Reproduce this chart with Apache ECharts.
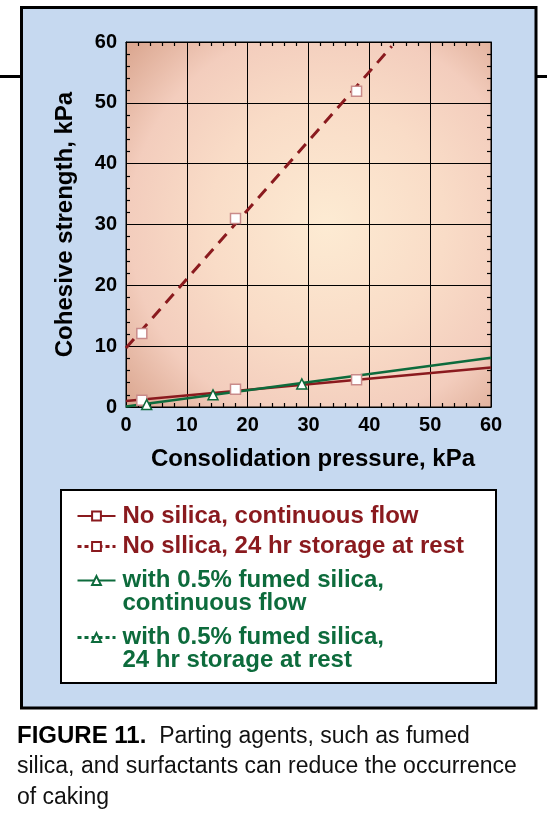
<!DOCTYPE html>
<html>
<head>
<meta charset="utf-8">
<script src="https://cdn.jsdelivr.net/npm/echarts@6/dist/echarts.min.js"></script>
<style>
html,body{margin:0;padding:0;background:#fff;}
#c{width:547px;height:819px;}
</style>
</head>
<body>
<div id="c"></div>
<script>
// ---- data ----
var xTicks = [0, 10, 20, 30, 40, 50, 60];
var yTicks = [0, 10, 20, 30, 40, 50, 60];
var seriesNames = [
  'No silica, continuous flow',
  'No sllica, 24 hr storage at rest',
  'with 0.5% fumed silica,\ncontinuous flow',
  'with 0.5% fumed silica,\n24 hr storage at rest'
];
// fitted lines
var noSilicaFlowLine = [[0, 1.0], [60, 6.5]];
var noSilicaRestLine = [[0, 9.7], [43.7, 59.3]];
var silicaFlowLine = [[0, 0.1], [60, 8.1]];
var silicaRestLine = [];
// measured points
var noSilicaFlowPts = [[2.6, 1.1], [18.0, 2.9], [37.9, 4.5]];
var noSilicaRestPts = [[2.6, 12.1], [18.0, 31.0], [37.9, 51.9]];
var silicaFlowPts = [[3.4, 0.4], [14.3, 2.0], [28.9, 3.8]];
var silicaRestPts = [];
var caption = ['FIGURE 11.', 'Parting agents, such as fumed', 'silica, and surfactants can reduce the occurrence', 'of caking'];

var RED = '#8a1a1e', GREEN = '#0d6b3c', SQB = '#c98b8a';
var FONT = 'Liberation Sans';

function fitLine(name, data, color, dash, sym) {
  return {
    name: name, type: 'line', data: data.map(function (p) { return { value: p, symbol: 'none' }; }),
    symbol: sym, symbolSize: 10, silent: true, z: 3,
    lineStyle: { color: color, width: dash ? 3 : 2.5, type: dash ? [12, 8] : 'solid' },
    itemStyle: { color: '#fff', borderColor: color, borderWidth: 1.2 }
  };
}
function pts(name, data, color, sym, size) {
  return {
    name: name, type: 'scatter', data: data, symbol: sym, symbolSize: size, z: 5, silent: true,
    itemStyle: { color: '#fff', borderColor: color, borderWidth: 1.5, opacity: 1 }
  };
}

var chart = echarts.init(document.getElementById('c'), null, { renderer: 'canvas' });
var labelStyle = { color: '#000', fontSize: 20, fontWeight: 'bold', fontFamily: FONT };
var axisBase = function (pos, showLabel) {
  return {
    type: 'value', position: pos, min: 0, max: 60, interval: 10,
    axisLine: { show: true, onZero: false, lineStyle: { color: '#000', width: 1 } },
    axisTick: { show: true, inside: true, length: 4, lineStyle: { color: '#000' } },
    minorTick: { show: true, splitNumber: 5, length: 4, lineStyle: { color: '#000', width: 1.2 } },
    splitLine: { show: showLabel, lineStyle: { color: '#000', width: 1 } },
    axisLabel: showLabel ? Object.assign({ margin: 8 }, labelStyle) : { show: false }
  };
};
var xb = axisBase('bottom', true);
xb.name = 'Consolidation pressure, kPa';
xb.nameLocation = 'middle'; xb.nameGap = 40;
xb.nameTextStyle = { color: '#000', fontSize: 24, fontWeight: 'bold', fontFamily: FONT, padding: [0, 0, 0, 9] };
var yl = axisBase('left', true);
yl.name = 'Cohesive strength, kPa';
yl.nameLocation = 'middle'; yl.nameGap = 49;
yl.nameTextStyle = { color: '#000', fontSize: 24, fontWeight: 'bold', fontFamily: FONT };
yl.axisLabel.margin = 9;

chart.setOption({
  animation: false,
  textStyle: { fontFamily: FONT },
  grid: {
    left: 126, top: 42, width: 365, height: 365, show: true, z: 0,
    borderColor: '#000', borderWidth: 1,
    backgroundColor: {
      type: 'radial', x: 0.55, y: 0.5, r: 0.72,
      colorStops: [
        { offset: 0, color: '#fdebd3' },
        { offset: 0.45, color: '#f9dcc7' },
        { offset: 0.75, color: '#f3cdbd' },
        { offset: 1, color: '#dca993' }
      ]
    }
  },
  xAxis: [xb, axisBase('top', false)],
  yAxis: [yl, axisBase('right', false)],
  legend: {
    orient: 'vertical', left: 71, top: 479.5, itemGap: -13, itemWidth: 38, itemHeight: 11,
    selectedMode: false,
    formatter: function (name) { return name.indexOf('\n') >= 0 ? '\n' + name : name; },
    textStyle: { fontSize: 24, fontWeight: 'bold', fontFamily: FONT, lineHeight: 23 },
    data: [
      { name: seriesNames[0], textStyle: { color: RED, padding: [20, 0, 20, 2] }, itemStyle: { borderColor: RED } },
      { name: seriesNames[1], textStyle: { color: RED, padding: [0, 0, 0, 2] }, itemStyle: { borderColor: RED }, lineStyle: { type: [4, 3], width: 3 } },
      { name: seriesNames[2], textStyle: { color: GREEN, padding: [0, 0, 0, 2] }, itemStyle: { borderColor: GREEN } },
      { name: seriesNames[3], textStyle: { color: GREEN, padding: [0, 0, 0, 2] }, itemStyle: { borderColor: GREEN }, lineStyle: { type: [4, 3], width: 3 } }
    ]
  },
  graphic: [
    { type: 'rect', z: -20, shape: { x: 21.5, y: 7.5, width: 514.5, height: 700.5 },
      style: { fill: '#c6d9f0', stroke: '#000', lineWidth: 3 } },
    { type: 'line', z: -20, shape: { x1: 0, y1: 76.5, x2: 20, y2: 76.5 }, style: { stroke: '#000', lineWidth: 3 } },
    { type: 'line', z: -20, shape: { x1: 537, y1: 76.5, x2: 547, y2: 76.5 }, style: { stroke: '#000', lineWidth: 3 } },
    { type: 'rect', z: -10, shape: { x: 61, y: 490, width: 435, height: 193 },
      style: { fill: '#fff', stroke: '#000', lineWidth: 2 } },
    { type: 'text', z: 10, left: 17, top: 721,
      style: {
        text: '{b|' + caption[0] + '}  ' + caption[1] + '\n' + caption[2] + '\n' + caption[3],
        font: '23px "Liberation Sans"', fill: '#111', lineHeight: 30.5,
        rich: { b: { fontSize: 24, fontWeight: 'bold', fontFamily: FONT, fill: '#000', lineHeight: 30.5 } }
      } }
  ],
  series: [
    fitLine(seriesNames[0], noSilicaFlowLine, RED, false, 'rect'),
    fitLine(seriesNames[1], noSilicaRestLine, RED, true, 'rect'),
    fitLine(seriesNames[2], silicaFlowLine, GREEN, false, 'triangle'),
    fitLine(seriesNames[3], silicaRestLine, GREEN, true, 'triangle'),
    pts('p1', noSilicaFlowPts, SQB, 'rect', 10),
    pts('p2', noSilicaRestPts, SQB, 'rect', 10),
    pts('p3', silicaFlowPts, GREEN, 'triangle', 10),
    pts('p4', silicaRestPts, GREEN, 'triangle', 10)
  ]
});
</script>
</body>
</html>
